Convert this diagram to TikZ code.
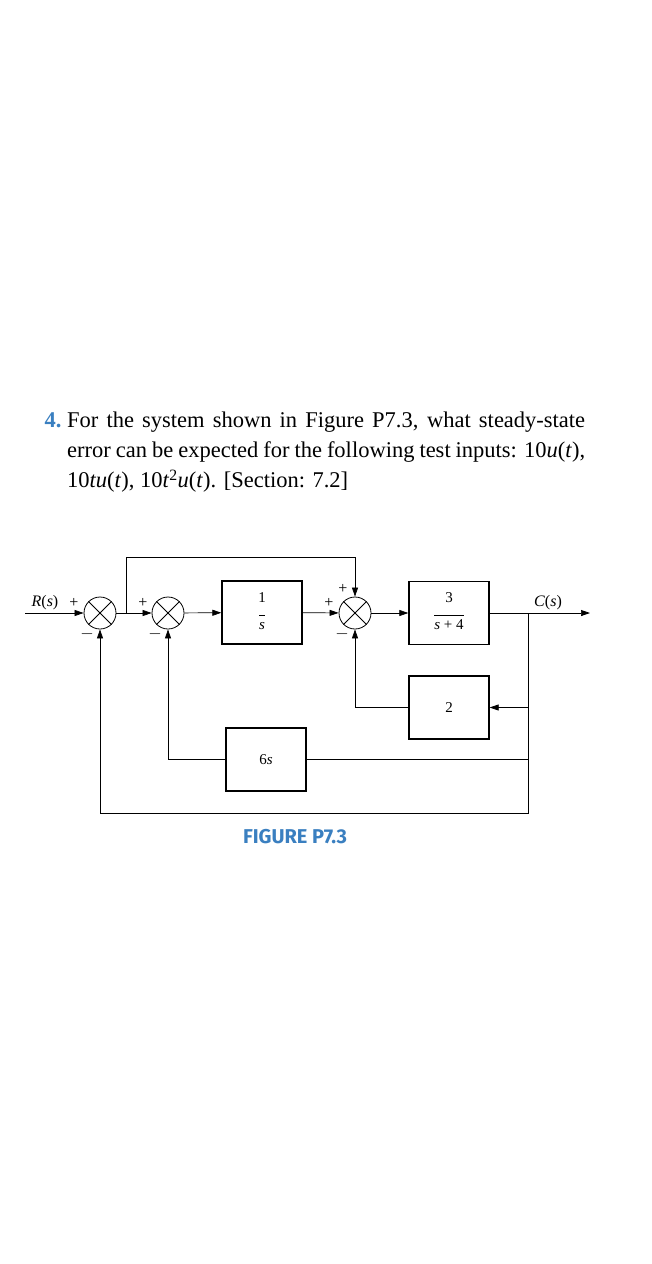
\documentclass[tikz,border=0pt]{standalone}
\usepackage{calc}
\usepackage{fontspec}
\setmainfont{Liberation Serif}
\newfontfamily\capfont{Fira Sans}
\usetikzlibrary{arrows.meta}
\definecolor{bl}{HTML}{3A7FC0}
\newcommand{\myfrac}[2]{\begin{tabular}{@{}c@{}}#1\\[-4pt]\rule{\widthof{#2}}{0.6pt}\\[-3pt]#2\end{tabular}}
\begin{document}
\begin{tikzpicture}[x=1pt,y=-1pt,
  blk/.style={draw,line width=1.3pt,minimum width=80pt,minimum height=63pt,inner sep=0pt,font=\fontsize{15}{17}\selectfont},
  sumj/.style={draw,circle,line width=0.8pt,minimum size=32pt,inner sep=0pt},
  ln/.style={draw,line width=0.7pt},
  ar/.style={ln,-{Triangle[length=9pt,width=6pt]}},
  lab/.style={font=\fontsize{16}{18}\selectfont,inner sep=1pt}]
\useasboundingbox (0,0) rectangle (652,1264);
\node[anchor=north west,inner sep=0pt,text width=518pt,align=justify,font=\fontsize{22.5}{30}\selectfont] (txt) at (67,412)
 {\llap{\textcolor{bl}{\textbf{4.}}\ }For the system shown in Figure P7.3, what steady-state error can be expected for the following test inputs: 10\textit{u}(\textit{t}), 10\textit{tu}(\textit{t}), 10\textit{t}\textsuperscript{2}\textit{u}(\textit{t}). [Section: 7.2]};
\node[sumj] (s1) at (100,613) {};
\node[sumj] (s2) at (168,613) {};
\node[sumj] (s3) at (355,613) {};
\foreach \n in {s1,s2,s3}{\draw[line width=0.8pt] (\n.north west)--(\n.south east) (\n.north east)--(\n.south west);}
\node[blk] (g1) at (262,612.5) {\myfrac{1}{\textit{s}}};
\node[blk] (g2) at (449,613) {\myfrac{3}{\textit{s} + 4}};
\node[blk] (h2) at (449,707.5) {2};
\node[blk] (h1) at (266,759.5) {6\textit{s}};
\coordinate (in) at (25,613);
\coordinate (out) at (590,613);
\coordinate (br) at (528,613);
\coordinate (tp) at (126,613);
\node[lab,anchor=south] (rl) at (45,611) {\textit{R}(\textit{s})};
\node[lab,anchor=south] (cl) at (548,611) {\textit{C}(\textit{s})};
\draw[ar] (in) -- (s1);
\draw[ar] (s1) -- (s2);
\draw[ar] (s2) -- (g1);
\draw[ar] (g1) -- (s3);
\draw[ar] (s3) -- (g2);
\draw[ar] (g2) -- (out);
\draw[ar] (tp) -- (126,557) -- (355,557) -- (s3.north);
\draw[ar] (br) |- (h2.east);
\draw[ar] (h2.west) -| (s3.south);
\draw[ln] (br) |- (h1.east);
\draw[ar] (h1.west) -| (s2.south);
\draw[ar] (br) |- (100,813) -- (s1.south);
\node[lab] (p1) at (74,603) {+};
\node[lab] (m1) at (87,634) {$-$};
\node[lab] (p2) at (143,603) {+};
\node[lab] (m2) at (155,634) {$-$};
\node[lab] (p3) at (329,603) {+};
\node[lab] (p4) at (343,589) {+};
\node[lab] (m3) at (342,634) {$-$};
\node[font=\capfont\bfseries\fontsize{20}{22}\selectfont,text=bl] (cap) at (295,837) {FIGURE P7.3};
\end{tikzpicture}
\end{document}
